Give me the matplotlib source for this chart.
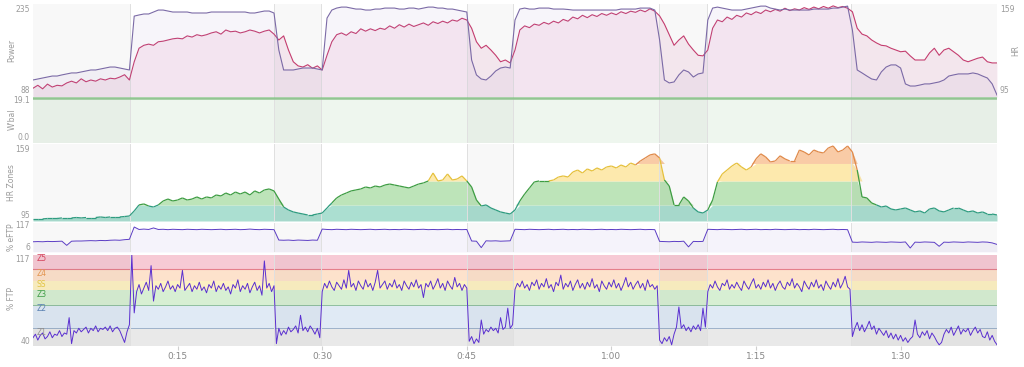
import numpy as np
import matplotlib
matplotlib.use("Agg")
import matplotlib.pyplot as plt
from matplotlib.collections import LineCollection

# ---- data (time axis 0..100 min) ----
power = [97, 102, 96, 104, 99, 102, 101, 106, 109, 106,
         113, 108, 111, 109, 113, 111, 114, 113, 116, 120,
         111, 142, 165, 170, 172, 170, 176, 177, 179, 181,
         182, 181, 186, 184, 188, 186, 188, 191, 193, 189,
         196, 193, 194, 191, 193, 196, 194, 191, 194, 196,
         189, 179, 186, 162, 142, 135, 133, 137, 131, 135,
         128, 153, 176, 188, 191, 187, 193, 190, 198, 194,
         198, 195, 199, 197, 203, 199, 205, 201, 206, 202,
         205, 208, 204, 210, 207, 211, 208, 213, 211, 216,
         213, 199, 176, 165, 170, 162, 153, 142, 145, 140,
         162, 196, 203, 200, 206, 204, 209, 206, 211, 208,
         214, 211, 218, 215, 221, 217, 222, 219, 224, 221,
         225, 222, 227, 224, 228, 226, 230, 227, 232, 228,
         220, 206, 188, 170, 179, 186, 172, 162, 153, 152,
         162, 199, 213, 210, 218, 214, 221, 218, 225, 222,
         227, 224, 230, 227, 231, 228, 233, 229, 232, 230,
         234, 231, 235, 232, 236, 233, 237, 234, 236, 233,
         227, 199, 189, 186, 179, 174, 170, 169, 165, 162,
         159, 160, 152, 145, 145, 145, 157, 165, 153, 162,
         165, 159, 153, 145, 142, 145, 148, 150, 142, 140,
         140]

heart_rate = [105.7, 106.4, 107.1, 107.8, 108.5, 108.5, 109.3, 110.0, 110.7, 110.7,
              111.4, 112.1, 112.8, 112.8, 113.5, 114.2, 114.9, 114.9, 114.2, 113.5,
              112.8, 151.1, 151.9, 152.6, 152.6, 154.0, 155.4, 155.4, 154.7, 154.0,
              154.0, 154.0, 154.0, 153.3, 153.3, 153.3, 153.3, 154.0, 154.0, 154.0,
              154.0, 154.0, 154.0, 154.0, 154.0, 153.3, 153.3, 154.0, 154.7, 154.7,
              153.3, 127.0, 112.8, 112.8, 112.8, 113.5, 114.2, 114.2, 114.2, 113.5,
              112.8, 149.7, 155.4, 156.8, 157.5, 157.5, 156.8, 156.1, 156.1, 155.4,
              155.4, 156.1, 156.1, 156.8, 156.8, 156.8, 156.1, 156.1, 156.8, 156.8,
              156.1, 156.8, 157.5, 157.5, 156.8, 156.8, 156.1, 156.1, 155.4, 154.7,
              154.0, 119.9, 109.3, 106.4, 105.7, 108.5, 112.1, 114.2, 114.9, 114.2,
              148.3, 156.1, 156.8, 156.1, 156.1, 156.8, 156.8, 156.8, 156.1, 156.1,
              156.1, 155.8, 155.4, 155.4, 155.4, 155.4, 155.4, 155.4, 155.4, 155.4,
              155.4, 155.4, 156.1, 156.1, 156.1, 156.1, 156.8, 156.8, 156.8, 155.4,
              134.1, 105.7, 103.6, 104.3, 109.3, 112.8, 111.4, 107.8, 110.0, 110.7,
              148.3, 156.8, 157.5, 156.8, 156.1, 155.4, 155.4, 155.4, 156.1, 156.8,
              157.5, 158.2, 158.2, 156.8, 156.1, 155.4, 156.1, 155.4, 155.4, 155.4,
              155.4, 155.4, 156.1, 156.1, 156.1, 156.1, 156.8, 156.8, 157.5, 158.2,
              141.2, 112.8, 110.7, 108.5, 106.4, 105.7, 111.4, 114.9, 116.4, 116.4,
              114.2, 102.9, 101.4, 101.4, 102.1, 102.9, 102.9, 103.6, 104.3, 105.7,
              108.5, 109.3, 110.0, 110.0, 110.0, 110.7, 110.0, 108.5, 107.1, 102.9,
              95.0]

wbal_time = [0, 100]
wbal = [19.1, 19.1]

hr_zone_line = [92.3, 92.3, 92.3, 92.7, 92.7, 92.7, 93.2, 93.2, 93.2, 93.6,
                93.2, 93.6, 93.6, 93.6, 94.1, 93.6, 94.1, 94.1, 94.1, 94.5,
                95.0, 99.6, 105.1, 106.0, 104.1, 103.2, 105.1, 108.7, 110.5, 108.7,
                109.6, 111.5, 109.6, 110.5, 112.4, 110.5, 112.4, 111.5, 114.2, 113.3,
                116.0, 114.2, 116.9, 115.1, 116.9, 114.2, 117.9, 116.0, 118.8, 119.7,
                117.9, 110.5, 103.2, 100.5, 98.7, 97.7, 96.8, 95.9, 95.9, 96.8,
                97.7, 102.3, 106.9, 111.5, 114.2, 116.0, 117.9, 118.8, 119.7, 121.5,
                120.6, 122.4, 121.5, 123.3, 124.2, 123.3, 122.4, 121.5, 120.6, 122.4,
                124.2, 125.2, 127.0, 134.3, 127.0, 127.9, 133.4, 127.9, 128.8, 131.6,
                127.0, 121.5, 109.6, 104.1, 105.1, 102.3, 100.5, 98.7, 97.7, 96.8,
                100.5, 108.7, 115.1, 120.6, 126.1, 127.0, 127.0, 127.0, 127.9, 130.6,
                131.6, 130.6, 135.2, 137.0, 134.3, 138.0, 136.1, 138.9, 137.0, 139.8,
                140.7, 138.9, 141.6, 139.8, 143.4, 141.6, 145.3, 148.0, 150.8, 151.8,
                148.0, 127.9, 122.4, 105.1, 105.1, 112.4, 108.7, 102.3, 98.7, 97.7,
                100.5, 109.6, 126.1, 133.4, 137.0, 140.7, 143.4, 139.8, 137.0, 139.8,
                147.2, 151.8, 149.0, 144.4, 145.3, 150.0, 147.2, 145.3, 145.3, 155.3,
                153.5, 150.8, 155.3, 153.5, 152.6, 157.2, 159.0, 153.5, 155.3, 159.0,
                153.5, 137.0, 112.4, 111.5, 106.9, 105.1, 103.2, 104.1, 101.4, 100.5,
                101.4, 102.3, 100.5, 98.7, 99.6, 97.7, 101.4, 102.3, 99.6, 98.7,
                100.5, 102.3, 102.3, 100.5, 98.7, 99.6, 97.7, 98.7, 96.8, 96.8,
                95.9]

eftp_pct = [39, 40, 39, 41, 40, 41, 42, 20, 42, 43,
            43, 44, 45, 44, 46, 45, 47, 48, 47, 50,
            52, 117, 104, 106, 104, 112, 104, 105, 103, 105,
            104, 103, 105, 104, 103, 105, 104, 103, 104, 105,
            103, 104, 105, 103, 104, 106, 104, 103, 105, 104,
            103, 48, 47, 48, 46, 48, 47, 46, 48, 47,
            106, 104, 103, 105, 104, 103, 105, 104, 103, 104,
            105, 103, 104, 105, 103, 104, 103, 105, 104, 103,
            104, 105, 103, 104, 103, 104, 105, 103, 104, 103,
            104, 43, 42, 8, 44, 43, 44, 42, 43, 44,
            105, 104, 103, 105, 104, 103, 104, 105, 103, 104,
            105, 103, 104, 103, 105, 104, 103, 104, 105, 103,
            104, 103, 105, 104, 103, 104, 105, 103, 104, 103,
            41, 40, 39, 41, 40, 42, 12, 41, 40, 41,
            105, 104, 103, 105, 104, 103, 104, 105, 103, 104,
            105, 103, 104, 103, 105, 104, 103, 104, 105, 103,
            104, 103, 105, 104, 103, 104, 105, 103, 104, 103,
            37, 36, 38, 37, 36, 38, 37, 36, 38, 37,
            36, 38, 6, 37, 36, 38, 37, 36, 15, 37,
            36, 38, 37, 36, 38, 37, 36, 38, 37, 33,
            25]

ftp_pct = [47, 50, 45, 49, 51, 46, 48, 52, 47, 50, 49, 53, 48, 51, 50, 64, 42, 53, 51, 55,
           52, 54, 56, 51, 55, 53, 57, 52, 55, 54, 56, 53, 57, 52, 55, 56, 53, 48, 43, 52,
           58,
           117, 68, 86, 92, 84, 89, 94, 87, 108, 78, 91, 88, 93, 86, 90, 95, 88, 91, 86, 92,
           89, 104, 87, 90, 93, 86, 91, 88, 94, 87, 90, 85, 92, 89, 95, 86, 91, 88, 93, 87,
           90, 84, 92, 89, 96, 86, 91, 88, 93, 85, 90, 94, 87, 91, 83, 112, 89, 93, 86, 91,
           42, 55, 49, 53, 50, 56, 52, 54, 57, 51, 66, 53, 56, 52, 57, 54, 50, 55, 47,
           86, 93, 89, 95, 90, 87, 94, 91, 88, 96, 89, 104, 90, 93, 87, 95, 91, 88, 96, 90,
           93, 87, 94, 104, 89, 92, 95, 88, 93, 90, 96, 89, 92, 87, 95, 91, 88, 94, 90, 96,
           89, 92, 81, 93, 90, 95, 88, 92, 97, 89, 93, 87, 95, 91, 88, 98, 90, 93, 87, 92,
           89,
           44, 48, 42, 46, 43, 62, 50, 54, 52, 56, 53, 55, 51, 64, 54, 56, 72, 55, 58,
           88, 93, 90, 95, 89, 92, 87, 94, 91, 96, 88, 93, 90, 97, 89, 92, 86, 94, 91, 100,
           88, 93, 90, 95, 87, 92, 96, 89, 93, 88, 94, 90, 97, 89, 92, 86, 95, 91, 88, 94,
           90, 96, 89, 93, 87, 92, 98, 90, 94, 88, 92, 95, 89, 93, 87, 96, 90, 92, 88, 91,
           45, 42, 47, 44, 48, 41, 50, 56, 73, 55, 58, 53, 56, 52, 57, 54, 58, 53, 72, 56,
           86, 92, 89, 95, 90, 87, 93, 91, 96, 88, 92, 89, 94, 90, 87, 95, 91, 88, 93, 97,
           89, 92, 88, 94, 90, 96, 89, 93, 87, 92, 95, 90, 88, 94, 91, 97, 89, 93, 90, 86,
           95, 91, 88, 94, 90, 96, 89, 92, 87, 95, 91, 88, 94, 90, 97, 89, 93, 99, 90, 88,
           48, 55, 60, 53, 58, 52, 56, 61, 54, 57, 50, 55, 52, 49, 53, 47, 51, 46, 50, 45,
           49, 44, 47, 43, 46, 48, 62, 50, 47, 52, 49, 53, 46, 51, 48, 44, 41, 43, 50, 54,
           51, 56, 49, 53, 57, 50, 54, 52, 55, 49, 53, 56, 51, 54, 48, 47, 52, 45, 49, 44,
           41]

rest_periods = [(0, 10.1), (25.0, 29.9), (45.0, 49.8), (64.9, 69.9), (84.9, 100)]

hr_zone_edges = [105, 127, 143]
hr_zone_fill = ['#abdfd1', '#bde4b9', '#fde9ad', '#f9cba6']
hr_zone_line_colors = ['#2f9c80', '#3e9d43', '#e6c13c', '#e08a4a']

ftp_zone_names = ['Z1', 'Z2', 'Z3', 'SS', 'Z4', 'Z5']
ftp_zone_edges = [40, 55, 75, 87, 95, 105, 117]
ftp_zone_fill = ['#e9e9e9', '#e0eaf5', '#d7efd3', '#fdf1c3', '#fde2cc', '#f7cad5']
ftp_zone_text = ['#8f8f8f', '#5b82b3', '#3f9d45', '#e2c443', '#e39652', '#d4435c']

tick_minutes = [15, 30, 45, 60, 75, 90]
tick_labels = ['0:15', '0:30', '0:45', '1:00', '1:15', '1:30']

W, H = 1024, 367
fig = plt.figure(figsize=(W / 100, H / 100), dpi=100)
GRAY = '#9a9a9a'


def panel(top, bottom):
    ax = fig.add_axes([33 / W, 1 - bottom / H, 964 / W, (bottom - top) / H])
    ax.set_xlim(0, 100)
    for s in ax.spines.values():
        s.set_visible(False)
    ax.set_xticks([])
    ax.set_yticks([])
    return ax


def shade(ax):
    for a, b in rest_periods:
        ax.axvspan(a, b, color='#000000', alpha=0.027, lw=0, zorder=1.5)
        for x in (a, b):
            if 0 < x < 100:
                ax.axvline(x, color='#e0e0e0', lw=0.7, zorder=1.6)


def ftext(x, y, s, **kw):
    kw.setdefault('fontsize', 5.5)
    kw.setdefault('color', GRAY)
    fig.text(x / W, 1 - y / H, s, **kw)


# ---- power / HR ----
t = np.linspace(0, 100, len(power))
ax1 = panel(4, 97)
p_lo, p_hi = 82.1, 240.2
ax1.set_ylim(p_lo, p_hi)
ax1.fill_between(t, p_lo, power, color='#cc3f86', alpha=0.09, lw=0, zorder=1)
shade(ax1)
ax1.plot(t, power, color='#c43d6f', lw=0.8, zorder=3)

ax1b = ax1.twinx()
h_lo, h_hi = 93.6, 159.7
ax1b.set_ylim(h_lo, h_hi)
for s in ax1b.spines.values():
    s.set_visible(False)
ax1b.set_yticks([])
th = np.linspace(0, 100, len(heart_rate))
ax1b.fill_between(th, h_lo, heart_rate, color='#9a78c0', alpha=0.07, lw=0)
ax1b.plot(th, heart_rate, color='#7b6aa6', lw=0.8)

# ---- W'bal ----
ax2 = panel(97, 143)
ax2.set_ylim(0, 19.4)
ax2.fill_between(wbal_time, 0, wbal, color='#eef6ee', lw=0, zorder=1)
ax2.plot(wbal_time, wbal, color='#92c592', lw=1.8, zorder=3)
shade(ax2)

# ---- HR zones ----
ax3 = panel(144, 221)
z_lo, z_hi = 90.4, 160.8
ax3.set_ylim(z_lo, z_hi)
hz = np.array(hr_zone_line)
tz = np.linspace(0, 100, len(hz))
bounds = [z_lo] + hr_zone_edges + [z_hi]
for i in range(4):
    lo, hi = bounds[i], bounds[i + 1]
    ax3.fill_between(tz, lo, np.clip(hz, lo, hi), color=hr_zone_fill[i], lw=0, zorder=1)
shade(ax3)
pts = np.column_stack([tz, hz])
segs = np.stack([pts[:-1], pts[1:]], axis=1)
mid = (hz[:-1] + hz[1:]) / 2
seg_colors = [hr_zone_line_colors[k] for k in np.searchsorted(hr_zone_edges, mid)]
ax3.add_collection(LineCollection(segs, colors=seg_colors, linewidths=0.9, zorder=3))

# ---- % eFTP ----
ax4 = panel(223, 252)
e_lo, e_hi = -15.1, 138.2
ax4.set_ylim(e_lo, e_hi)
te = np.linspace(0, 100, len(eftp_pct))
ax4.fill_between(te, e_lo, eftp_pct, color='#7a5fd0', alpha=0.07, lw=0, zorder=1)
shade(ax4)
ax4.plot(te, eftp_pct, color='#5b3cc4', lw=0.7, zorder=3)

# ---- % FTP with zones ----
ax5 = panel(255, 346)
ax5.set_ylim(40, 117)
for i, name in enumerate(ftp_zone_names):
    lo, hi = ftp_zone_edges[i], ftp_zone_edges[i + 1]
    ax5.axhspan(lo, hi, color=ftp_zone_fill[i], lw=0, zorder=0.5)
    ax5.text(0.35, hi - 3.3, name, fontsize=5.5, color=ftp_zone_text[i],
             ha='left', va='center', zorder=5)
ax5.axhline(105, color='#e57f8c', lw=0.8, zorder=0.8)
ax5.axhline(75, color='#8fbf9f', lw=0.7, zorder=0.8)
ax5.axhline(55, color='#9db2cb', lw=0.7, zorder=0.8)
shade(ax5)
tf = np.linspace(0, 100, len(ftp_pct))
ax5.plot(tf, ftp_pct, color='#5a2fd0', lw=0.7, zorder=3)
ax5.set_xticks(tick_minutes)
ax5.set_xticklabels(tick_labels, fontsize=6.5, color='#888888')
ax5.tick_params(axis='x', length=3, color='#cfcfcf', pad=1.5)

# ---- side labels ----
ftext(12, 50, 'Power', rotation=90, ha='center', va='center')
ftext(12, 119, "W'bal", rotation=90, ha='center', va='center')
ftext(12, 183, 'HR Zones', rotation=90, ha='center', va='center')
ftext(12, 237, '% eFTP', rotation=90, ha='center', va='center')
ftext(12, 299, '% FTP', rotation=90, ha='center', va='center')
ftext(1016, 50, 'HR', rotation=90, ha='center', va='center')
for s, y in [('235', 9), ('88', 90.5), ('19.1', 100.5), ('0.0', 138), ('159', 149),
             ('95', 216), ('117', 226), ('6', 248), ('117', 259), ('40', 341)]:
    ftext(30, y, s, ha='right', va='center')
ftext(1000, 9, '159', ha='left', va='center')
ftext(1000, 90.5, '95', ha='left', va='center')

fig.savefig('out.png', dpi=100)
